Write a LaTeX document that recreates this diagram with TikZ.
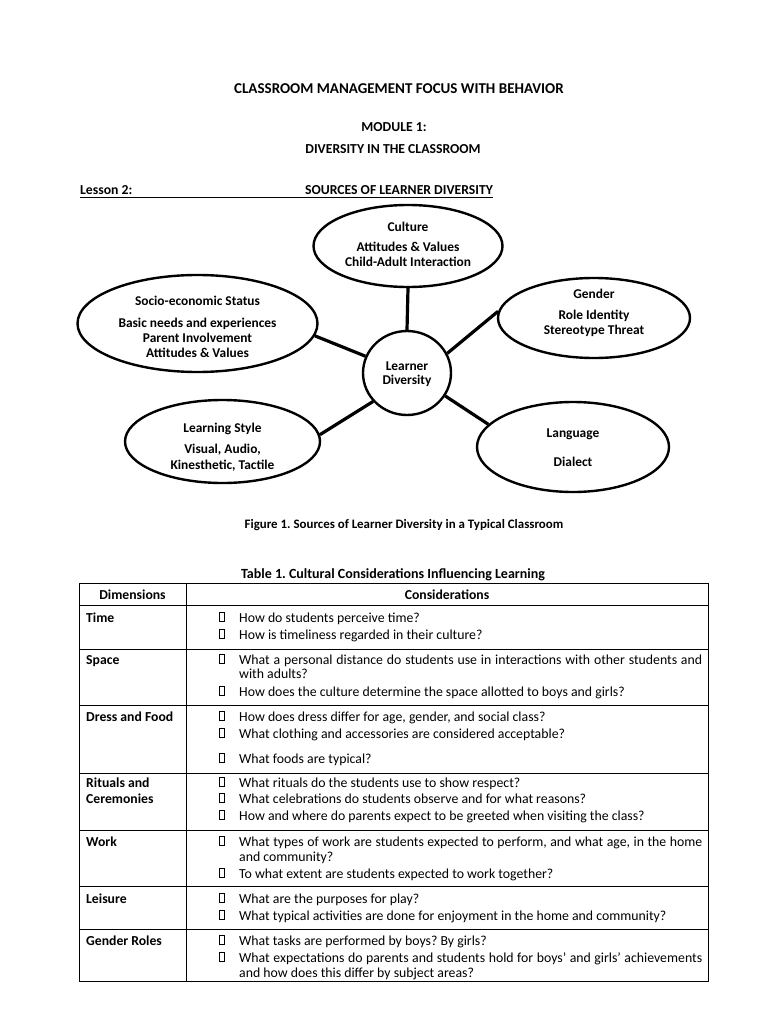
\documentclass[tikz,border=0pt]{standalone}
\usepackage{fontspec}
\setmainfont{Carlito}
\usepackage{tikz}
\usetikzlibrary{shapes.geometric,calc}

\begin{document}
\frenchspacing
\begin{tikzpicture}[x=1pt,y=-1pt,
  bub/.style={draw,ellipse,line width=2.4pt,inner sep=0pt},
  blab/.style={align=center,inner sep=0pt,font=\fontsize{13.4}{15}\bfseries},
  spoke/.style={line width=3.2pt},
  hd/.style={anchor=base,inner sep=0pt,font=\fontsize{13.7}{16}\bfseries},
  rowlbl/.style={anchor=base west,inner sep=0pt,font=\fontsize{13.7}{15}\bfseries},
  cell/.style={anchor=base west,inner sep=0pt,font=\fontsize{13.8}{15}\selectfont},
  chk/.style={draw,line width=0.6pt,minimum width=5.5pt,minimum height=9pt,inner sep=0pt,anchor=south},
  rule/.style={line width=0.8pt}]
  \useasboundingbox (0,0) rectangle (768,1024);
  \fill[white] (0,0) rectangle (768,1024);

  \node[hd,font=\fontsize{15}{18}\bfseries] (title) at (399,94) {CLASSROOM MANAGEMENT FOCUS WITH BEHAVIOR};
  \node[hd] (module) at (394,131.5) {MODULE 1:};
  \node[hd] (topic) at (393,153.5) {DIVERSITY IN THE CLASSROOM};
  \node[hd,anchor=base west] (lesson) at (80,194.5) {Lesson 2:};
  \node[hd] (sources) at (399,194.5) {SOURCES OF LEARNER DIVERSITY};
  \draw[line width=0.8pt] ($(lesson.base west)+(0,3)$) -- ($(sources.base east)+(0,3)$);

  \node[bub,minimum width=88pt,minimum height=84pt] (ld) at (407,373) {};
  \node[blab] (ldT) at (407,374.5) {Learner\\[-1pt]Diversity};
  \node[bub,minimum width=189pt,minimum height=82pt] (cult) at (408,246) {};
  \node[blab] (cultT) at (408,244) {Culture\\[5pt]Attitudes \& Values\\Child-Adult Interaction};
  \node[bub,minimum width=192pt,minimum height=80pt] (gend) at (594,318) {};
  \node[blab] (gendT) at (594,312.5) {Gender\\[6pt]Role Identity\\Stereotype Threat};
  \node[bub,minimum width=240pt,minimum height=97pt] (ses) at (197.5,323.5) {};
  \node[blab] (sesT) at (197.5,327) {Socio-economic Status\\[7pt]Basic needs and experiences\\Parent Involvement\\Attitudes \& Values};
  \node[bub,minimum width=195pt,minimum height=83pt] (lsty) at (222.5,441.5) {};
  \node[blab] (lstyT) at (222.5,447) {Learning Style\\[6pt]Visual, Audio,\\[1pt]Kinesthetic, Tactile};
  \node[bub,minimum width=192pt,minimum height=90pt] (lang) at (573,447) {};
  \node[blab] (langT) at (573,448) {Language\\[14pt]Dialect};

  \draw[spoke] (ld.north) -- (cult.south);
  \draw[spoke] (ld.158) -- (ses.-6);
  \draw[spoke] (ld.26) -- (gend.176);
  \draw[spoke] (ld.220) -- (lsty.4);
  \draw[spoke] (ld.-31) -- (lang.165);

  \node[hd,font=\fontsize{12.9}{15}\bfseries] (fig) at (404,528.5) {Figure 1. Sources of Learner Diversity in a Typical Classroom};
  \node[hd,font=\fontsize{14}{16}\bfseries] (tab) at (393,578.5) {Table 1. Cultural Considerations Influencing Learning};

  \draw[rule] (79,583) rectangle (708,981);
  \draw[rule] (186,583) -- (186,981);
  \draw[rule] (79,605) -- (708,605);
  \draw[rule] (79,649) -- (708,649);
  \draw[rule] (79,705) -- (708,705);
  \draw[rule] (79,773) -- (708,773);
  \draw[rule] (79,830) -- (708,830);
  \draw[rule] (79,886) -- (708,886);
  \draw[rule] (79,929) -- (708,929);

  \node[rowlbl,anchor=base] (dimH) at (132.5,599.5) {Dimensions};
  \node[rowlbl,anchor=base] (conH) at (447,599.5) {Considerations};

  \node[rowlbl] (time) at (86,622) {Time};
  \node[chk] (b1) at (222,622) {};
  \node[cell] (q1) at (239,622) {How do students perceive time?};
  \node[chk] (b2) at (222,639) {};
  \node[cell] (q2) at (239,639) {How is timeliness regarded in their culture?};

  \node[rowlbl] (space) at (86,664) {Space};
  \node[chk] (b3) at (222,664) {};
  \node[cell] (q3) at (239,664) {\hbox to 463pt{What a personal distance do students use in interactions with other students and}};
  \node[cell] (q3b) at (239,678) {with adults?};
  \node[chk] (b4) at (222,696) {};
  \node[cell] (q4) at (239,696) {How does the culture determine the space allotted to boys and girls?};

  \node[rowlbl] (dress) at (86,721) {Dress and Food};
  \node[chk] (b5) at (222,721) {};
  \node[cell] (q5) at (239,721) {How does dress differ for age, gender, and social class?};
  \node[chk] (b6) at (222,738) {};
  \node[cell] (q6) at (239,738) {What clothing and accessories are considered acceptable?};
  \node[chk] (b7) at (222,763) {};
  \node[cell] (q7) at (239,763) {What foods are typical?};

  \node[rowlbl] (rit) at (86,787) {Rituals and};
  \node[rowlbl] (ritb) at (86,803) {Ceremonies};
  \node[chk] (b8) at (222,787) {};
  \node[cell] (q8) at (239,787) {What rituals do the students use to show respect?};
  \node[chk] (b9) at (222,803) {};
  \node[cell] (q9) at (239,803) {What celebrations do students observe and for what reasons?};
  \node[chk] (b10) at (222,820) {};
  \node[cell] (q10) at (239,820) {How and where do parents expect to be greeted when visiting the class?};

  \node[rowlbl] (work) at (86,846) {Work};
  \node[chk] (b11) at (222,846) {};
  \node[cell] (q11) at (239,846) {\hbox to 463pt{What types of work are students expected to perform, and what age, in the home}};
  \node[cell] (q11b) at (239,861) {and community?};
  \node[chk] (b12) at (222,878) {};
  \node[cell] (q12) at (239,878) {To what extent are students expected to work together?};

  \node[rowlbl] (leis) at (86,903) {Leisure};
  \node[chk] (b13) at (222,903) {};
  \node[cell] (q13) at (239,903) {What are the purposes for play?};
  \node[chk] (b14) at (222,920) {};
  \node[cell] (q14) at (239,920) {What typical activities are done for enjoyment in the home and community?};

  \node[rowlbl] (gen) at (86,945) {Gender Roles};
  \node[chk] (b15) at (222,945) {};
  \node[cell] (q15) at (239,945) {What tasks are performed by boys? By girls?};
  \node[chk] (b16) at (222,962) {};
  \node[cell] (q16) at (239,962) {\hbox to 463pt{What expectations do parents and students hold for boys’ and girls’ achievements}};
  \node[cell] (q16b) at (239,977) {and how does this differ by subject areas?};
\end{tikzpicture}
\end{document}
